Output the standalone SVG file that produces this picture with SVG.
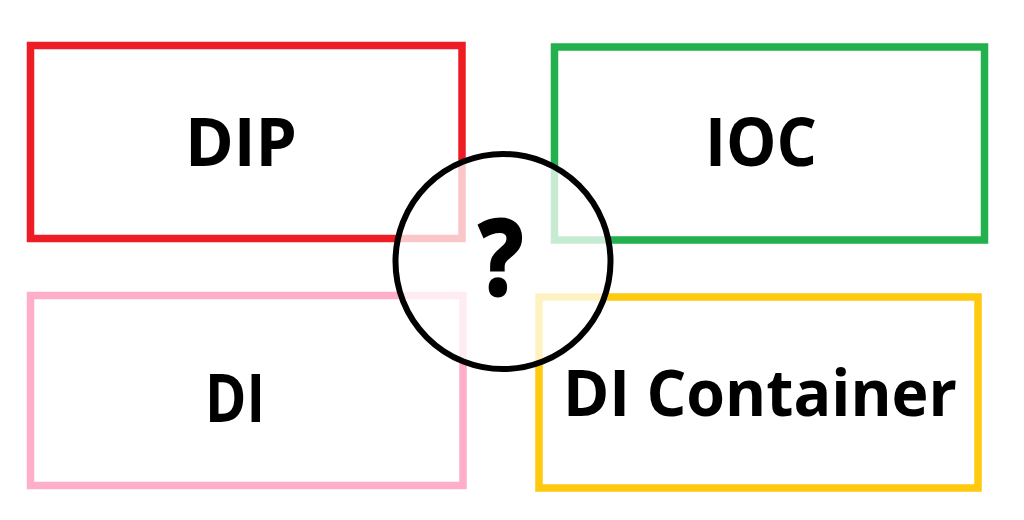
<svg xmlns="http://www.w3.org/2000/svg" width="1024" height="520" viewBox="0 0 1024 520">
<style>
.box{fill:none;stroke-width:7.5}
.lbl{font-family:"Open Sans","Noto Sans","DejaVu Sans",sans-serif;font-weight:bold;fill:#000;text-anchor:middle}
</style>
<rect width="1024" height="520" fill="#fff"/>
<g id="dip">
<rect class="box" x="30.5" y="45.5" width="431.5" height="193" stroke="#ee1c25"/>
<text class="lbl" x="241" y="166" font-size="66" textLength="112" lengthAdjust="spacingAndGlyphs">DIP</text>
</g>
<g id="ioc">
<rect class="box" x="554.5" y="47" width="430" height="193" stroke="#22b14c"/>
<text class="lbl" x="761" y="166" font-size="66" textLength="112" lengthAdjust="spacingAndGlyphs">IOC</text>
</g>
<g id="di">
<rect class="box" x="30.5" y="295.5" width="432.5" height="190" stroke="#ffaec9"/>
<text class="lbl" x="235" y="422" font-size="66" textLength="60" lengthAdjust="spacingAndGlyphs">DI</text>
</g>
<g id="dicontainer">
<rect class="box" x="539" y="297" width="439" height="191" stroke="#ffc90e"/>
<text class="lbl" x="760" y="416" font-size="64" textLength="394" lengthAdjust="spacingAndGlyphs">DI Container</text>
</g>
<g id="question">
<circle cx="503" cy="261.5" r="107.5" fill="#fff" fill-opacity="0.75" stroke="#000" stroke-width="6"/>
<text class="lbl" x="501" y="295" font-size="104" textLength="44" lengthAdjust="spacingAndGlyphs" stroke="#000" stroke-width="3">?</text>
</g>
<g id="connectors"/>
</svg>
